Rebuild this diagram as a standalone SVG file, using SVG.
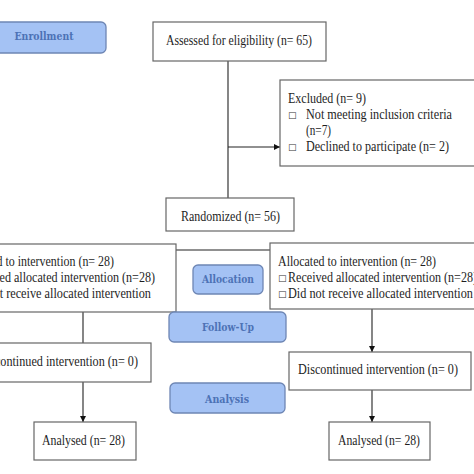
<svg xmlns="http://www.w3.org/2000/svg" width="474" height="474" viewBox="0 0 474 474">
<defs>
<marker id="ah" viewBox="0 0 8 8" refX="8" refY="4" markerWidth="6" markerHeight="7" orient="auto" markerUnits="userSpaceOnUse">
<path d="M0,0 L8,4 L0,8 z" fill="#111"/>
</marker>
</defs>
<style>
.box{fill:#fff;stroke:#666;stroke-width:1.2}
.lab{fill:#a4c2f4;stroke:#6e86b4;stroke-width:1.3}
.t{font-family:"Liberation Serif","DejaVu Serif",serif;font-size:14px;fill:#1e1e1e}
.lt{font-family:"DejaVu Serif","Liberation Serif",serif;font-weight:bold;font-size:11.5px;fill:#4d72b6;text-anchor:middle}
.b{font-family:"DejaVu Sans",sans-serif;font-size:9px;fill:#333}
.c{stroke:#222;stroke-width:1.1;fill:none}
</style>
<rect width="474" height="474" fill="#fff"/>
<g id="connectors">
<line class="c" x1="228" y1="61" x2="228" y2="198"/>
<line class="c" x1="228" y1="147" x2="280" y2="147" marker-end="url(#ah)"/>
<line class="c" x1="176" y1="250" x2="270" y2="250"/>
<line class="c" x1="83" y1="312" x2="83" y2="343"/>
<line class="c" x1="372" y1="309" x2="372" y2="352" marker-end="url(#ah)"/>
<line class="c" x1="83" y1="382" x2="83" y2="422" marker-end="url(#ah)"/>
<line class="c" x1="372" y1="390" x2="372" y2="422" marker-end="url(#ah)"/>
</g>
<g id="enrollment">
<rect class="lab" x="-18" y="22" width="124" height="31" rx="5"/>
<text class="lt" x="44" y="40" textLength="59" lengthAdjust="spacingAndGlyphs">Enrollment</text>
</g>
<g id="assessed">
<rect class="box" x="153" y="22" width="173" height="39"/>
<text class="t" x="166" y="45" textLength="146" lengthAdjust="spacingAndGlyphs">Assessed for eligibility (n= 65)</text>
</g>
<g id="excluded">
<rect class="box" x="280" y="80" width="200" height="86"/>
<text class="t" x="288" y="103" textLength="78" lengthAdjust="spacingAndGlyphs">Excluded (n= 9)</text>
<text class="b" x="288" y="118">□</text>
<text class="t" x="306" y="119" textLength="146" lengthAdjust="spacingAndGlyphs">Not meeting inclusion criteria</text>
<text class="t" x="306" y="135" textLength="25" lengthAdjust="spacingAndGlyphs">(n=7)</text>
<text class="b" x="288" y="150">□</text>
<text class="t" x="306" y="151" textLength="143" lengthAdjust="spacingAndGlyphs">Declined to participate (n= 2)</text>
</g>
<g id="randomized">
<rect class="box" x="166" y="198" width="128" height="33"/>
<text class="t" x="181" y="221" textLength="99" lengthAdjust="spacingAndGlyphs">Randomized (n= 56)</text>
</g>
<g id="alloc-left">
<rect class="box" x="-52" y="244" width="228" height="68"/>
<text class="t" x="-44" y="266" textLength="158" lengthAdjust="spacingAndGlyphs">Allocated to intervention (n= 28)</text>
<text class="b" x="-44" y="281">□</text>
<text class="t" x="-34" y="282" textLength="189" lengthAdjust="spacingAndGlyphs">Received allocated intervention (n=28)</text>
<text class="b" x="-44" y="297">□</text>
<text class="t" x="-34" y="298" textLength="185" lengthAdjust="spacingAndGlyphs">Did not receive allocated intervention</text>
</g>
<g id="allocation">
<rect class="lab" x="193" y="265" width="70" height="29" rx="5"/>
<text class="lt" x="228" y="283" textLength="52" lengthAdjust="spacingAndGlyphs">Allocation</text>
</g>
<g id="alloc-right">
<rect class="box" x="270" y="243" width="228" height="66"/>
<text class="t" x="278" y="266" textLength="158" lengthAdjust="spacingAndGlyphs">Allocated to intervention (n= 28)</text>
<text class="b" x="278" y="281">□</text>
<text class="t" x="288" y="282" textLength="189" lengthAdjust="spacingAndGlyphs">Received allocated intervention (n=28)</text>
<text class="b" x="278" y="297">□</text>
<text class="t" x="288" y="298" textLength="185" lengthAdjust="spacingAndGlyphs">Did not receive allocated intervention</text>
</g>
<g id="followup">
<rect class="lab" x="169" y="312" width="117" height="30" rx="5"/>
<text class="lt" x="228" y="331" textLength="52" lengthAdjust="spacingAndGlyphs">Follow-Up</text>
</g>
<g id="disc-left">
<rect class="box" x="-32" y="343" width="183" height="39"/>
<text class="t" x="-22" y="366" textLength="160" lengthAdjust="spacingAndGlyphs">Discontinued intervention (n= 0)</text>
</g>
<g id="disc-right">
<rect class="box" x="289" y="352" width="182" height="38"/>
<text class="t" x="298" y="374" textLength="160" lengthAdjust="spacingAndGlyphs">Discontinued intervention (n= 0)</text>
</g>
<g id="analysis">
<rect class="lab" x="170" y="383" width="115" height="30" rx="5"/>
<text class="lt" x="227" y="403" textLength="44" lengthAdjust="spacingAndGlyphs">Analysis</text>
</g>
<g id="analysed-left">
<rect class="box" x="34" y="422" width="102" height="38"/>
<text class="t" x="42" y="445" textLength="83" lengthAdjust="spacingAndGlyphs">Analysed (n= 28)</text>
</g>
<g id="analysed-right">
<rect class="box" x="329" y="422" width="101" height="38"/>
<text class="t" x="338" y="445" textLength="82" lengthAdjust="spacingAndGlyphs">Analysed (n= 28)</text>
</g>
</svg>
